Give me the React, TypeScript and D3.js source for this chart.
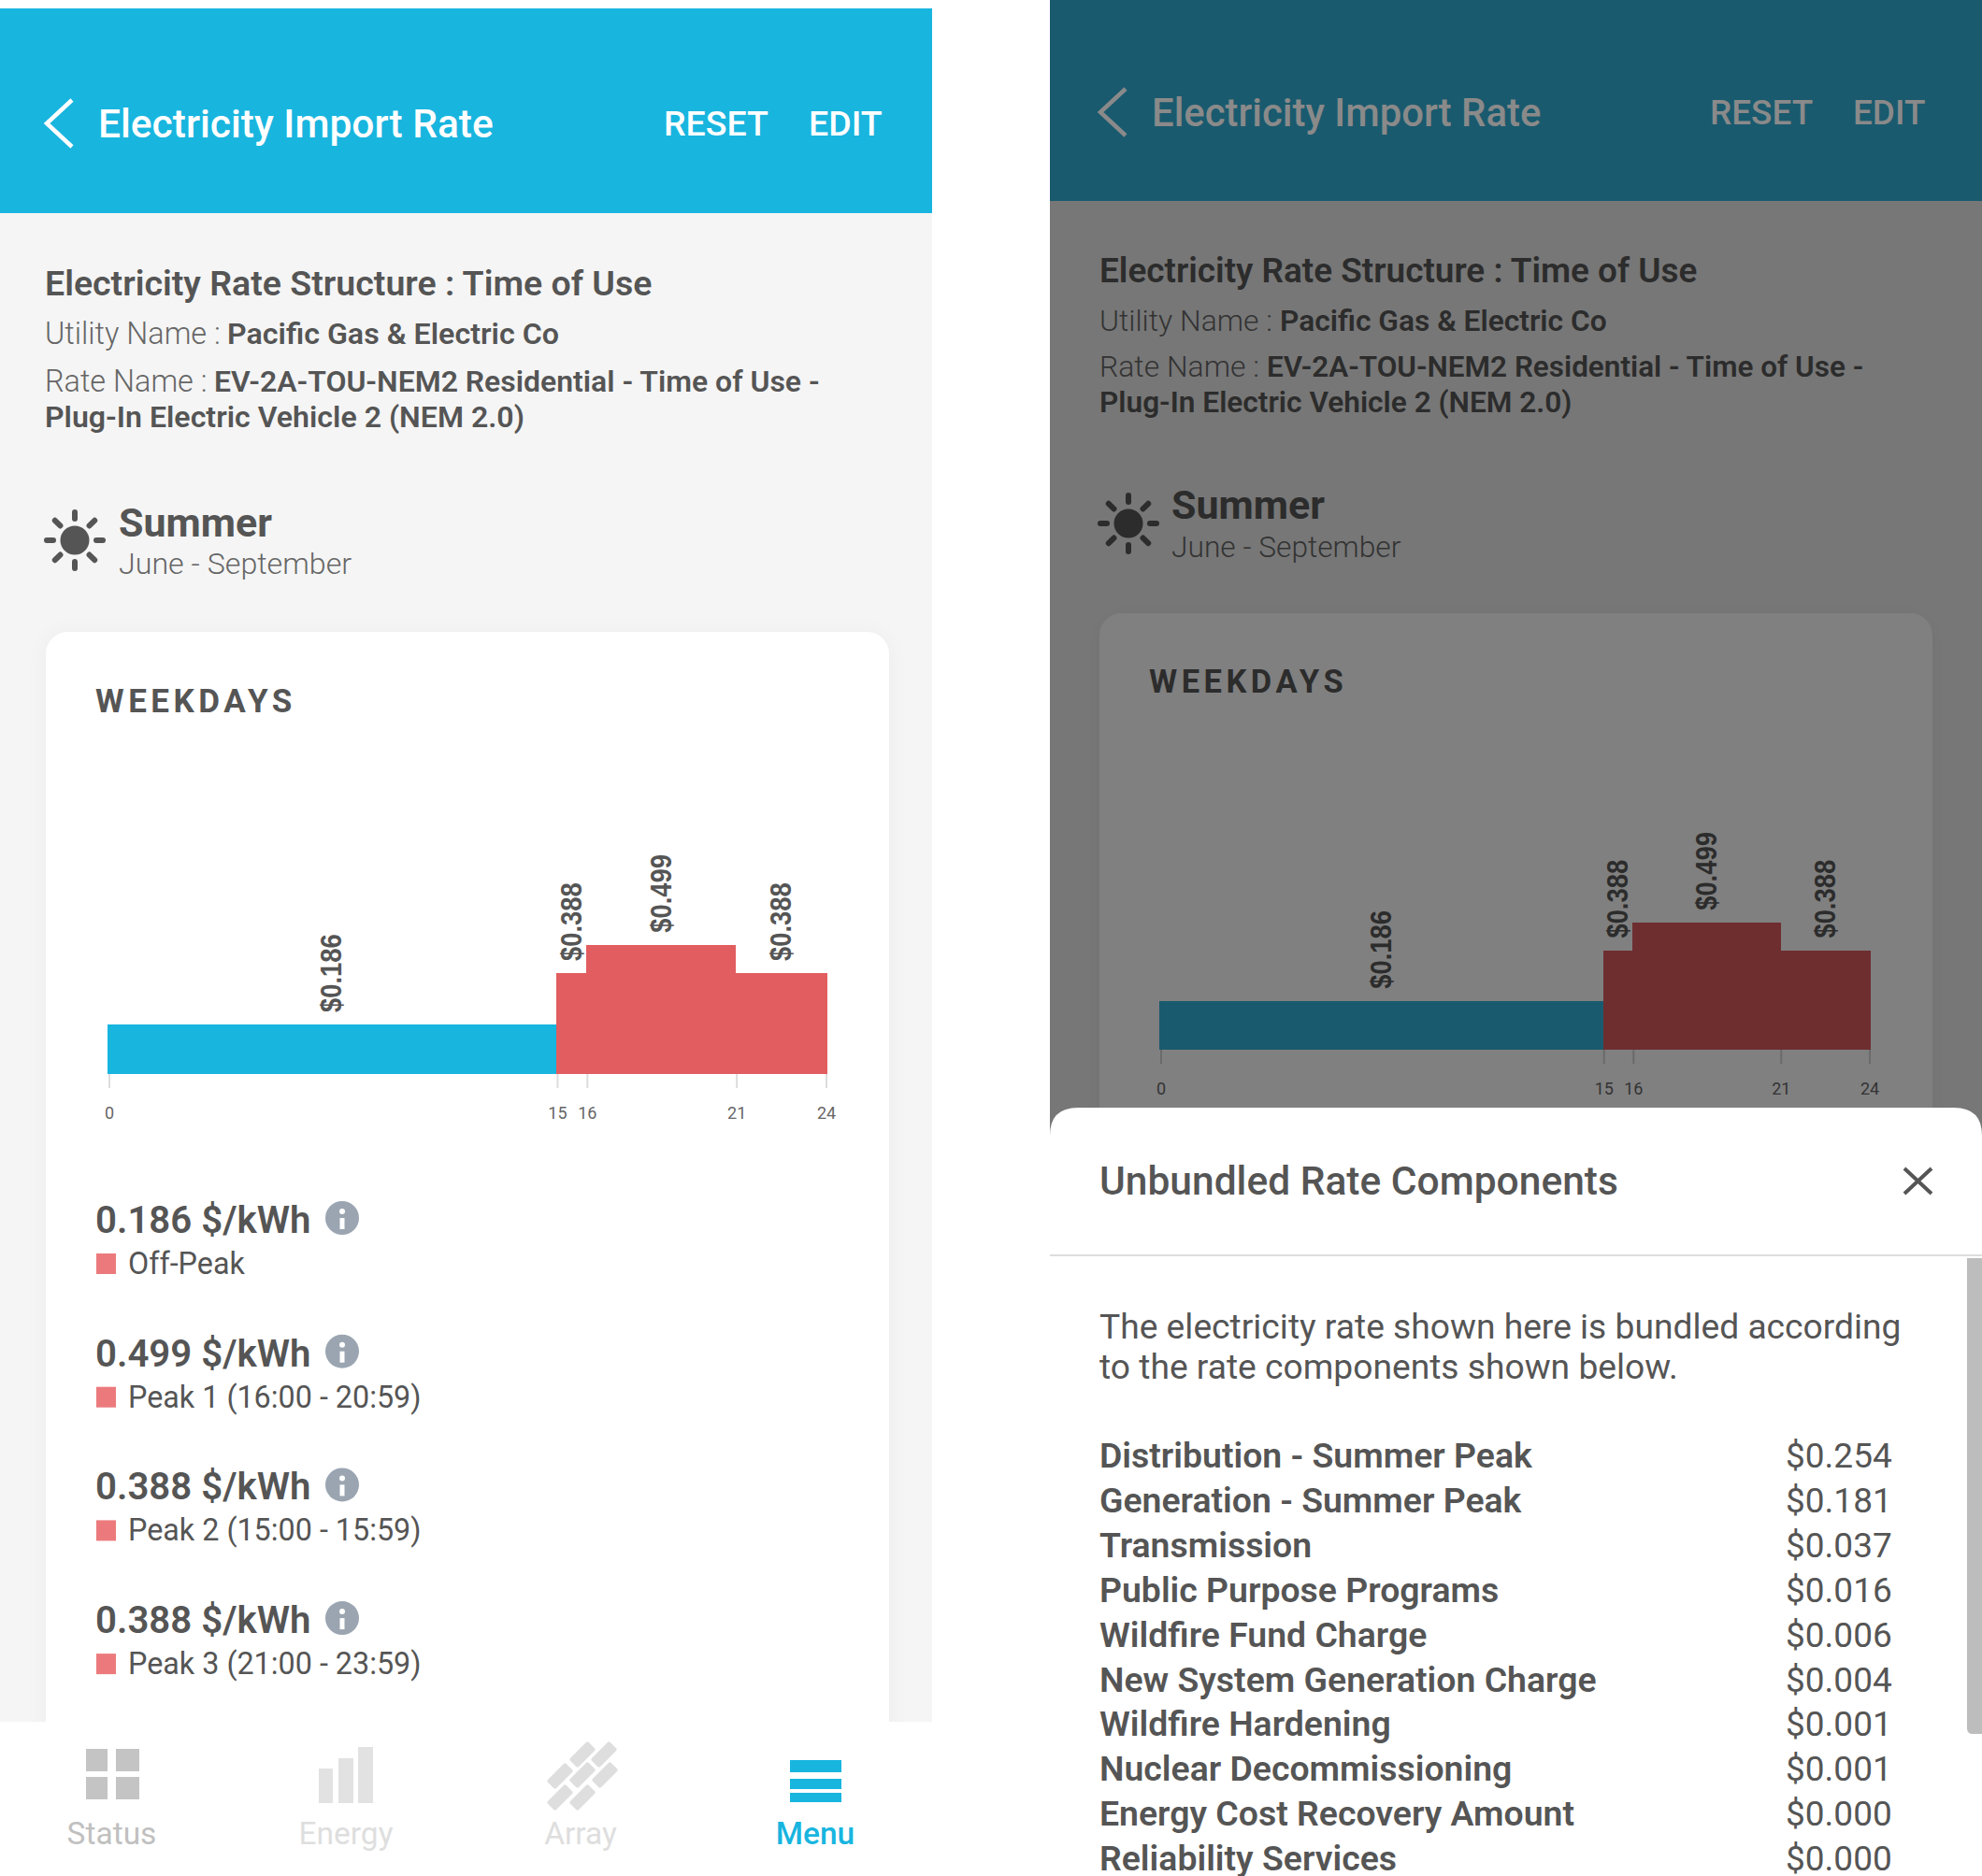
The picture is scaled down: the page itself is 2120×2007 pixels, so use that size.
import { useEffect, useRef } from 'react';
import * as d3 from 'd3';

// rate chart values
const hourStarts = [0, 15, 16, 21];
const hourEnds = [15, 16, 21, 24];
const hourRates = [0.186, 0.388, 0.499, 0.388];
const hourTicks = [0, 15, 16, 21, 24];

// rate list under the chart
const listRates = ['0.186 $/kWh', '0.499 $/kWh', '0.388 $/kWh', '0.388 $/kWh'];
const listNames = ['Off-Peak', 'Peak 1 (16:00 - 20:59)', 'Peak 2 (15:00 - 15:59)', 'Peak 3 (21:00 - 23:59)'];

// unbundled components
const componentNames = [
  'Distribution - Summer Peak',
  'Generation - Summer Peak',
  'Transmission',
  'Public Purpose Programs',
  'Wildfire Fund Charge',
  'New System Generation Charge',
  'Wildfire Hardening',
  'Nuclear Decommissioning',
  'Energy Cost Recovery Amount',
  'Reliability Services',
];
const componentValues = ['$0.254', '$0.181', '$0.037', '$0.016', '$0.006', '$0.004', '$0.001', '$0.001', '$0.000', '$0.000'];

const navNames = ['Status', 'Energy', 'Array', 'Menu'];

const FONT = 'Roboto, sans-serif';
const BLUE = '#18b5df';

interface ChartProps {
  left: number;
  right: number;
  base: number;
  unit: number; // px per $ of rate
  offColor: string;
  peakColor: string;
  labelColor: string;
  tickColor: string;
  tickText: string;
}

const RateChart = ({ left, right, base, unit, offColor, peakColor, labelColor, tickColor, tickText }: ChartProps) => {
  const ref = useRef<SVGGElement>(null);

  useEffect(() => {
    if (!ref.current) return;
    const g = d3.select(ref.current);
    g.selectAll('*').remove();

    const x = d3.scaleLinear().domain([0, 24]).range([left, right]);
    // the app's y axis starts a little under zero
    const yFloor = -0.009;
    const y = d3.scaleLinear().domain([yFloor, 0.5]).range([base, base - unit * (0.5 - yFloor)]);
    const segments = hourRates.map((rate, i) => ({ rate, start: hourStarts[i], end: hourEnds[i] }));
    const barX = (hour: number) => (hour === 24 ? right : Math.round(x(hour) - 1.4));

    g.selectAll('rect')
      .data(segments)
      .enter()
      .append('rect')
      .attr('x', d => barX(d.start))
      .attr('y', d => y(d.rate))
      .attr('width', d => barX(d.end) - barX(d.start))
      .attr('height', d => base - y(d.rate))
      .attr('shape-rendering', 'crispEdges')
      .attr('fill', d => (d.rate < 0.2 ? offColor : peakColor));

    // rotated price labels, wider across than the plain font
    g.selectAll('.price')
      .data(segments)
      .enter()
      .append('text')
      .attr('class', 'price')
      .attr('transform', d => `translate(${x((d.start + d.end) / 2) + 9},${y(d.rate) - 13}) rotate(-90) scale(1,1.15)`)
      .attr('font-family', '"Liberation Sans", Arial, sans-serif')
      .attr('font-weight', 700)
      .attr('font-size', 27.4)
      .attr('fill', labelColor)
      .text(d => `$${d.rate.toFixed(3)}`);

    const tickX = d3.scaleLinear().domain([0, 24]).range([left + 0.5, right - 1.5]);
    const axis = d3.axisBottom(tickX).tickValues(hourTicks).tickSize(15).tickPadding(20).tickFormat(d3.format('d') as any);
    const axisG = g.append('g').attr('transform', `translate(0,${base})`).call(axis);
    axisG.select('.domain').remove();
    axisG.selectAll('line').attr('stroke', tickColor).attr('stroke-width', 2);
    axisG.selectAll('text').attr('font-family', FONT).attr('font-size', 18).attr('fill', tickText);
  }, []);

  return <g ref={ref} />;
};

const Sun = ({ cx, cy, color }: { cx: number; cy: number; color: string }) => (
  <g>
    <circle cx={cx} cy={cy} r={15.5} fill={color} />
    {d3.range(8).map(i => {
      const a = (i * Math.PI) / 4;
      const r1 = i % 2 ? 22 : 23;
      const r2 = 30;
      return (
        <line
          key={i}
          x1={cx + r1 * Math.cos(a)}
          y1={cy + r1 * Math.sin(a)}
          x2={cx + r2 * Math.cos(a)}
          y2={cy + r2 * Math.sin(a)}
          stroke={color}
          strokeWidth={6}
          strokeLinecap="round"
        />
      );
    })}
  </g>
);

interface PanelProps {
  x0: number;
  x1: number;
  headerTop: number;
  headerBottom: number;
  headerFill: string;
  headerText: string;
  pageFill: string;
  cardFill: string;
  ink: string;
  soft: string;
  k: number; // font scale of the panel
  chevronX: number;
  chevronY: number;
  titleX: number;
  titleY: number;
  resetX: number;
  editX: number;
  actionY: number;
  textX: number;
  structureY: number;
  utilityY: number;
  utilityBoldX: number;
  rateY: number;
  rateBoldX: number;
  plugY: number;
  sunX: number;
  sunY: number;
  summerX: number;
  summerY: number;
  monthsY: number;
  cardX: number;
  cardRight: number;
  cardTop: number;
  cardBottom: number;
  weekX: number;
  weekY: number;
}

const Panel = (p: PanelProps) => (
  <g fontFamily={FONT}>
    <rect x={p.x0} y={p.headerBottom} width={p.x1 - p.x0} height={2007 - p.headerBottom} fill={p.pageFill} />
    <rect x={p.x0} y={p.headerTop} width={p.x1 - p.x0} height={p.headerBottom - p.headerTop} fill={p.headerFill} />
    <path
      d={`M${p.chevronX + 27},${p.chevronY - 25} L${p.chevronX},${p.chevronY} L${p.chevronX + 27},${p.chevronY + 25}`}
      fill="none"
      stroke={p.headerText}
      strokeWidth={4.5}
    />
    <text x={p.titleX} y={p.titleY} fontSize={42.5 * p.k} fontWeight={500} fill={p.headerText}>Electricity Import Rate</text>
    <text x={p.resetX} y={p.actionY} fontSize={37.5 * p.k} fontWeight={500} fill={p.headerText}>RESET</text>
    <text x={p.editX} y={p.actionY} fontSize={37.5 * p.k} fontWeight={500} fill={p.headerText}>EDIT</text>

    <text x={p.textX} y={p.structureY} fontSize={37.5 * p.k} fontWeight={600} fill={p.ink}>Electricity Rate Structure : Time of Use</text>
    <text x={p.textX} y={p.utilityY} fontSize={32.4 * p.k} fontWeight={300} fill={p.soft}>Utility Name :</text>
    <text x={p.utilityBoldX} y={p.utilityY} fontSize={32.2 * p.k} fontWeight={600} fill={p.ink}>Pacific Gas &amp; Electric Co</text>
    <text x={p.textX} y={p.rateY} fontSize={32.4 * p.k} fontWeight={300} fill={p.soft}>Rate Name :</text>
    <text x={p.rateBoldX} y={p.rateY} fontSize={31.95 * p.k} fontWeight={600} fill={p.ink}>EV-2A-TOU-NEM2 Residential - Time of Use -</text>
    <text x={p.textX} y={p.plugY} fontSize={32.1 * p.k} fontWeight={600} fill={p.ink}>Plug-In Electric Vehicle 2 (NEM 2.0)</text>

    <Sun cx={p.sunX} cy={p.sunY} color={p.ink} />
    <text x={p.summerX} y={p.summerY} fontSize={43} fontWeight={700} fill={p.ink}>Summer</text>
    <text x={p.summerX} y={p.monthsY} fontSize={32.2 * p.k} fontWeight={300} fill={p.soft}>June - September</text>

    <rect
      x={p.cardX}
      y={p.cardTop}
      width={p.cardRight - p.cardX}
      height={p.cardBottom - p.cardTop}
      rx={24}
      fill={p.cardFill}
      filter="url(#cardShadow)"
    />
    <text x={p.weekX} y={p.weekY} fontSize={35 * p.k} fontWeight={700} letterSpacing={4.5} fill={p.ink}>WEEKDAYS</text>
  </g>
);

const RateList = () => (
  <g fontFamily={FONT}>
    {listRates.map((rate, i) => {
      const y = 1319 + i * 142.7;
      return (
        <g key={i}>
          <text x={102} y={y} fontSize={40.2} fontWeight={600} fill="#555">{rate}</text>
          <circle cx={366} cy={y - 16} r={18} fill="#9aa5b1" />
          <rect x={363.5} y={y - 16} width={5} height={12} fill="#fff" />
          <circle cx={366} cy={y - 23} r={3} fill="#fff" />
          <rect x={103} y={y + 22} width={21} height={22} fill="#ec7a7c" />
          <text x={137} y={y + 44} fontSize={32.3} fill="#555">{listNames[i]}</text>
        </g>
      );
    })}
  </g>
);

const NavBar = () => {
  const centers = [119.5, 370, 621, 872];
  const colors = ['#c0c0c0', '#dedede', '#dedede', BLUE];
  const brickX = [623, 646, 599, 623, 647, 599, 623];
  const brickY = [1877, 1877, 1900, 1899, 1899, 1923, 1923];
  return (
    <g fontFamily={FONT}>
      <rect x={0} y={1842} width={997} height={165} fill="#fff" />
      {/* status */}
      <g fill="#c4c4c4">
        <rect x={92} y={1871} width={23} height={24} />
        <rect x={124} y={1871} width={25} height={24} />
        <rect x={92} y={1901} width={23} height={24} />
        <rect x={124} y={1901} width={25} height={24} />
      </g>
      {/* energy */}
      <g fill="#e2e2e2">
        <rect x={341} y={1892} width={15} height={37} />
        <rect x={362} y={1881} width={16} height={48} />
        <rect x={383} y={1869} width={16} height={60} />
      </g>
      {/* array */}
      <g fill="#dedede">
        {brickX.map((bx, i) => (
          <rect key={i} x={bx - 14} y={brickY[i] - 6.5} width={28} height={13} rx={2} transform={`rotate(-45 ${bx} ${brickY[i]})`} />
        ))}
      </g>
      {/* menu */}
      <g fill={BLUE}>
        <rect x={845} y={1883} width={55} height={13} />
        <rect x={845} y={1903} width={55} height={11} />
        <rect x={845} y={1918} width={55} height={10} />
      </g>
      {navNames.map((name, i) => (
        <text key={name} x={centers[i]} y={1973} textAnchor="middle" fontSize={33.5} fontWeight={i === 3 ? 500 : 400} fill={colors[i]}>
          {name}
        </text>
      ))}
    </g>
  );
};

const Modal = () => (
  <g fontFamily={FONT}>
    <path d="M1123,2007 V1215 Q1123,1185 1153,1185 H2090 Q2120,1185 2120,1215 V2007 Z" fill="#fff" />
    <text x={1176} y={1278} fontSize={42.5} fontWeight={500} fill="#555">Unbundled Rate Components</text>
    <path d="M2037,1250 L2066,1277 M2066,1250 L2037,1277" stroke="#555" strokeWidth={4} fill="none" />
    <rect x={1123} y={1342} width={997} height={2} fill="#ddd" />
    <path d="M2104,1346 H2120 V1855 H2110 Q2104,1855 2104,1849 Z" fill="#bdbdbd" />
    <text x={1176} y={1432} fontSize={37.2} fill="#555">The electricity rate shown here is bundled according</text>
    <text x={1176} y={1475} fontSize={37.2} fill="#555">to the rate components shown below.</text>
    {componentNames.map((name, i) => (
      <g key={name}>
        <text x={1176} y={1570 + i * 47.9} fontSize={37.4} fontWeight={600} fill="#555">{name}</text>
        <text x={1910} y={1570 + i * 47.9} fontSize={37} fill="#555">{componentValues[i]}</text>
      </g>
    ))}
  </g>
);

const App = () => (
  <svg
    width={2120}
    height={2007}
    viewBox="0 0 2120 2007"
    style={{ position: 'absolute', left: 0, top: 0, display: 'block', background: '#fff' }}
  >
    <defs>
      <filter id="cardShadow" x="-5%" y="-5%" width="110%" height="110%">
        <feDropShadow dx={0} dy={2} stdDeviation={10} floodColor="#000" floodOpacity={0.04} />
      </filter>
    </defs>

    <Panel
      x0={0} x1={997} headerTop={9} headerBottom={228} k={1}
      headerFill={BLUE} headerText="#fff" pageFill="#f5f5f5" cardFill="#fff" ink="#555" soft="#666"
      chevronX={50} chevronY={132} titleX={105} titleY={147} resetX={710} editX={865} actionY={145}
      textX={48} structureY={316} utilityY={368} utilityBoldX={243} rateY={419} rateBoldX={229} plugY={457}
      sunX={80} sunY={578} summerX={127} summerY={574} monthsY={614}
      cardX={49} cardRight={951} cardTop={676} cardBottom={1900} weekX={102} weekY={762}
    />
    <RateChart left={116} right={885} base={1149} unit={272} offColor={BLUE} peakColor="#e25d5f" labelColor="#555" tickColor="#ddd" tickText="#666" />
    <RateList />
    <NavBar />

    <Panel
      x0={1123} x1={2120} headerTop={0} headerBottom={215} k={0.985}
      headerFill="#1a5a6e" headerText="#8a8a8a" pageFill="#777" cardFill="#808080" ink="#2c2c2c" soft="#333"
      chevronX={1177} chevronY={120} titleX={1232} titleY={135} resetX={1829} editX={1982} actionY={133}
      textX={1176} structureY={302} utilityY={354} utilityBoldX={1369} rateY={403} rateBoldX={1355} plugY={441}
      sunX={1207} sunY={560} summerX={1253} summerY={555} monthsY={596}
      cardX={1176} cardRight={2067} cardTop={656} cardBottom={1300} weekX={1229} weekY={741}
    />
    <RateChart left={1241} right={2001} base={1123} unit={268} offColor="#1a5a6e" peakColor="#6e2e30" labelColor="#2c2c2c" tickColor="#6a6a6a" tickText="#333" />
    <Modal />
  </svg>
);

export default App;
